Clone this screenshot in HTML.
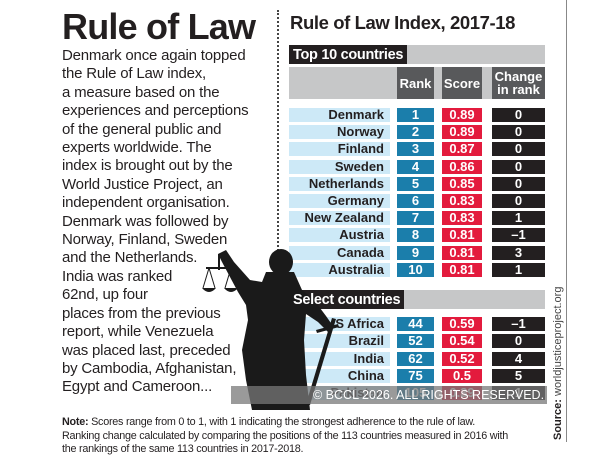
<!DOCTYPE html>
<html><head><meta charset="utf-8"><style>
*{margin:0;padding:0;box-sizing:border-box}
body{width:610px;height:458px;background:#fff;position:relative;overflow:hidden;font-family:"Liberation Sans",sans-serif;color:#231f20}
.a{position:absolute}
.t{left:62px;top:6px;font-size:36px;font-weight:bold;letter-spacing:-0.8px}
.body{left:62px;top:47px;font-size:15px;line-height:18.4px;white-space:pre;letter-spacing:-0.2px}
.h2{left:290px;top:12px;font-size:18.5px;font-weight:bold;letter-spacing:-0.4px}
.bar{background:#c6c7c8;height:19px}
.blk{background:#231f20;color:#fff;font-weight:bold;font-size:14.5px;padding:1px 4px;height:19px;line-height:18px;letter-spacing:-0.3px}
.cell{position:absolute;height:14px;line-height:14px;font-size:13px;font-weight:bold;text-align:center;color:#fff}
.c{background:#cde9f7;color:#231f20;text-align:right;padding-right:6px}
.r{background:#1b7eab}.s{background:#e31b3d}.k{background:#231f20}
.hd{background:#58595b;color:#fff;font-weight:bold;font-size:13px;text-align:center;position:absolute;top:67px;height:32px;display:flex;align-items:center;justify-content:center;line-height:13px}
.foot{left:62px;top:416px;font-size:10.8px;line-height:13.5px;white-space:pre;letter-spacing:-0.25px}
</style></head><body>
<div class="a" style="left:277px;top:10px;height:400px;border-left:2px dotted #444"></div>
<div class="a" style="left:566px;top:0;height:442px;border-left:1.5px solid #888"></div>
<div class="a t">Rule of Law</div>
<div class="a body">Denmark once again topped
the Rule of Law index,
a measure based on the
experiences and perceptions
of the general public and
experts worldwide. The
index is brought out by the
World Justice Project, an
independent organisation.
Denmark was followed by
Norway, Finland, Sweden
and the Netherlands.
India was ranked
62nd, up four
places from the previous
report, while Venezuela
was placed last, preceded
by Cambodia, Afghanistan,
Egypt and Cameroon...</div>
<div class="a h2">Rule of Law Index, 2017-18</div>
<div class="a bar" style="left:289px;top:45px;width:256px"></div>
<div class="a blk" style="left:289px;top:45px">Top 10 countries</div>
<div class="a" style="left:289px;top:67px;width:256px;height:32px;background:#c6c7c8"></div>
<div class="hd" style="left:397px;width:37px">Rank</div>
<div class="hd" style="left:442px;width:40px">Score</div>
<div class="hd" style="left:492px;width:53px">Change<br>in rank</div>
<div class="a bar" style="left:289px;top:290px;width:256px"></div>
<div id="rows"></div>
<svg class="a" style="left:0;top:0" width="610" height="458">
<g fill="#1a1a1a">
<ellipse cx="281" cy="262" rx="12" ry="13"/>
<path d="M266 272 L294 272 L302 290 L314 300 L326 316 L333 326 L328 332 L318 322 L306 314 L304 340 L306 375 L310 410 L252 410 L246 380 L242 350 L248 320 L246 305 L238 292 L222 262 L218 254 L226 250 L234 262 L250 280 L262 282 Z"/>
<path d="M332 318 l4 1 l-26 86 l-4 -1z"/>
<path d="M316 330 l22 -6 l1 3 l-22 6z"/>
<rect x="218" y="254" width="2" height="16"/>
<rect x="206" y="267" width="28" height="2"/>
<path d="M209 268 l-6 20 M209 268 l6 20 M231 268 l-6 20 M231 268 l6 20" stroke="#1a1a1a" stroke-width="1" fill="none"/>
<path d="M202 288 q7 8 14 0z M224 288 q7 8 14 0z"/>
</g>
</svg>
<div class="a blk" style="left:289px;top:290px;padding-right:8px;background:transparent">Select countries</div>
<div class="a" style="left:231px;top:386px;width:316px;height:18px;background:rgba(120,120,120,0.75);color:#fff;font-size:12.5px;line-height:18px;padding-left:82px;white-space:nowrap;overflow:hidden">© BCCL 2026. ALL RIGHTS RESERVED.</div>
<div class="a" style="left:552px;top:440px;transform:rotate(-90deg);transform-origin:0 0;font-size:11px;white-space:nowrap;color:#444"><b style="color:#231f20">Source:</b> worldjusticeproject.org</div>
<div class="a foot"><b>Note:</b> Scores range from 0 to 1, with 1 indicating the strongest adherence to the rule of law.
Ranking change calculated by comparing the positions of the 113 countries measured in 2016 with
the rankings of the same 113 countries in 2017-2018.</div>
<script>
var d=[["Denmark",1,"0.89","0"],["Norway",2,"0.89","0"],["Finland",3,"0.87","0"],["Sweden",4,"0.86","0"],["Netherlands",5,"0.85","0"],["Germany",6,"0.83","0"],["New Zealand",7,"0.83","1"],["Austria",8,"0.81","–1"],["Canada",9,"0.81","3"],["Australia",10,"0.81","1"]];
var e=[["S Africa",44,"0.59","–1"],["Brazil",52,"0.54","0"],["India",62,"0.52","4"],["China",75,"0.5","5"],["Pakistan",105,"0.39","1"]];
var h='<div class="a" style="left:289px;top:290px;width:115px;height:19px;background:#231f20"></div>';
function row(x,y){h+='<div class="cell c" style="left:289px;top:'+y+'px;width:101px">'+x[0]+'</div><div class="cell r" style="left:397px;top:'+y+'px;width:37px">'+x[1]+'</div><div class="cell s" style="left:442px;top:'+y+'px;width:40px">'+x[2]+'</div><div class="cell k" style="left:492px;top:'+y+'px;width:53px">'+x[3]+'</div>';}
d.forEach(function(x,i){row(x,108+i*17.2)});
e.forEach(function(x,i){row(x,317+i*17.3)});
document.getElementById("rows").outerHTML=h;
</script>
</body></html>
